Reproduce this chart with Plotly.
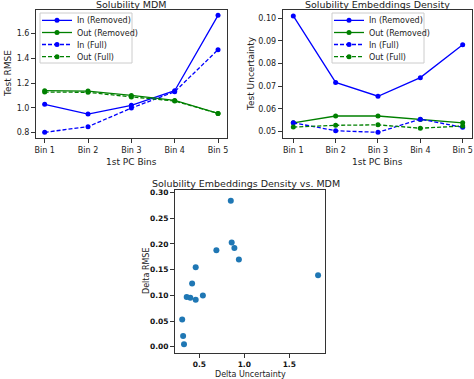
import plotly.graph_objects as go

bins = ["Bin 1", "Bin 2", "Bin 3", "Bin 4", "Bin 5"]

# Solubility MDM (Test RMSE)
mdm_in_removed = [1.028, 0.950, 1.020, 1.138, 1.745]
mdm_out_removed = [1.138, 1.135, 1.100, 1.060, 0.955]
mdm_in_full = [0.803, 0.848, 0.998, 1.130, 1.468]
mdm_out_full = [1.127, 1.125, 1.088, 1.055, 0.955]

# Solubility Embeddings Density (Test Uncertainty)
dens_in_removed = [0.1010, 0.0717, 0.0656, 0.0738, 0.0883]
dens_out_removed = [0.0539, 0.0569, 0.0569, 0.0554, 0.0539]
dens_in_full = [0.0539, 0.0504, 0.0497, 0.0555, 0.0519]
dens_out_full = [0.0520, 0.0528, 0.0530, 0.0515, 0.0525]

# Delta scatter
delta_unc = [0.85, 0.86, 0.89, 0.94, 0.69, 0.46, 0.42, 0.36, 0.40, 0.46, 0.54, 0.31, 0.32, 0.33, 1.82]
delta_rmse = [0.284, 0.203, 0.192, 0.170, 0.188, 0.155, 0.123, 0.097, 0.0955, 0.0916, 0.100, 0.053, 0.021, 0.005, 0.139]

W, H = 474, 379
FONT = "DejaVu Sans"
BLUE = "#0000ff"
GREEN = "#008000"
TXT = "#222222"

fig = go.Figure()

series = [
    ("In (Removed)", BLUE, "solid"),
    ("Out (Removed)", GREEN, "solid"),
    ("In (Full)", BLUE, "4px,2px"),
    ("Out (Full)", GREEN, "4px,2px"),
]

legend_layout = {}
leg_boxes = [(40, 13, 132, 63), (332, 13, 424, 63)]
row_y = [20.3, 32.5, 44.5, 56.7]
li = 0
for p, (xa, ya, data) in enumerate([
        ("x", "y", [mdm_in_removed, mdm_out_removed, mdm_in_full, mdm_out_full]),
        ("x2", "y2", [dens_in_removed, dens_out_removed, dens_in_full, dens_out_full])]):
    bx0, by0, bx1, by1 = leg_boxes[p]
    for k, ((name, c, d), ys) in enumerate(zip(series, data)):
        li += 1
        lname = "legend" if li == 1 else f"legend{li}"
        fig.add_trace(go.Scatter(
            x=bins, y=ys, name=name, mode="lines+markers",
            line=dict(color=c, width=1.3, dash=d),
            marker=dict(color=c, size=5),
            xaxis=xa, yaxis=ya, legend=lname, showlegend=True))
        legend_layout[lname] = dict(
            x=(bx0 - 3) / W, y=1 - row_y[k] / H, xanchor="left", yanchor="middle",
            bgcolor="rgba(0,0,0,0)", borderwidth=0, itemwidth=30,
            font=dict(family=FONT, size=8, color=TXT))

fig.add_trace(go.Scatter(
    x=delta_unc, y=delta_rmse, mode="markers",
    marker=dict(color="#1f77b4", size=6), xaxis="x3", yaxis="y3", showlegend=False))


def px(x0, x1):
    return [x0 / W, x1 / W]


def py(top, bot):
    return [1 - bot / H, 1 - top / H]


axis_common = dict(showline=True, mirror=True, linecolor="#333333", linewidth=1,
                   ticks="outside", ticklen=4, tickcolor="#333333", showgrid=False,
                   zeroline=False, automargin=False,
                   tickfont=dict(family=FONT, size=8, color=TXT))
bold_tick = dict(family=FONT, size=7.5, color="#111111", weight="bold")

fig.update_layout(
    width=W, height=H, margin=dict(l=0, r=0, t=0, b=0, autoexpand=False),
    paper_bgcolor="white", plot_bgcolor="white",
    font=dict(family=FONT, size=9, color=TXT),
    xaxis=dict(domain=px(36, 226.7), anchor="y", type="category", range=[-0.2, 4.2], **axis_common),
    yaxis=dict(domain=py(10, 138), anchor="x", range=[0.757, 1.788], tickvals=[0.8, 1.0, 1.2, 1.4, 1.6],
               tickformat=".1f", **axis_common),
    xaxis2=dict(domain=px(282.7, 472), anchor="y2", type="category", range=[-0.25, 4.22], **axis_common),
    yaxis2=dict(domain=py(10, 138), anchor="x2", range=[0.0472, 0.1036],
                tickvals=[0.05, 0.06, 0.07, 0.08, 0.09, 0.10], tickformat=".2f", **axis_common),
    xaxis3=dict(domain=px(175, 325), anchor="y3", range=[0.23, 1.897], tickvals=[0.5, 1.0, 1.5],
                tickformat=".1f", **{**axis_common, "tickfont": bold_tick}),
    yaxis3=dict(domain=py(190, 353), anchor="x3", range=[-0.012, 0.305],
                tickvals=[0, 0.05, 0.10, 0.15, 0.20, 0.25, 0.30], tickformat=".2f",
                **{**axis_common, "tickfont": bold_tick}),
    **legend_layout,
)

# legend frames
for bx0, by0, bx1, by1 in leg_boxes:
    fig.add_shape(type="rect", xref="paper", yref="paper",
                  x0=bx0 / W, x1=bx1 / W, y0=1 - by1 / H, y1=1 - by0 / H,
                  line=dict(color="#cccccc", width=1), fillcolor="rgba(255,255,255,0.8)", layer="below")

ann = [
    dict(text="Solubility MDM", x=131 / W, y=1 - 5 / H, size=9.5, angle=0),
    dict(text="Solubility Embeddings Density", x=377 / W, y=1 - 5 / H, size=9.5, angle=0),
    dict(text="Solubility Embeddings Density vs. MDM", x=246 / W, y=1 - 183 / H, size=9.5, angle=0),
    dict(text="1st PC Bins", x=131 / W, y=1 - 162 / H, size=9, angle=0),
    dict(text="1st PC Bins", x=377 / W, y=1 - 162 / H, size=9, angle=0),
    dict(text="Delta Uncertainty", x=250 / W, y=1 - 374 / H, size=8, angle=0),
    dict(text="Test RMSE", x=8 / W, y=1 - 74 / H, size=9, angle=-90),
    dict(text="Test Uncertainty", x=251 / W, y=1 - 74 / H, size=9, angle=-90),
    dict(text="Delta RMSE", x=146 / W, y=1 - 271 / H, size=8, angle=-90),
]
fig.update_layout(annotations=[
    dict(text=a["text"], x=a["x"], y=a["y"], xref="paper", yref="paper", showarrow=False,
         xanchor="center", yanchor="middle", textangle=a["angle"],
         font=dict(family=FONT, size=a["size"], color=TXT)) for a in ann
])

fig.write_html("out.html", config={"displayModeBar": False},
               post_script="document.body.style.margin='0px';document.body.style.overflow='hidden';")
